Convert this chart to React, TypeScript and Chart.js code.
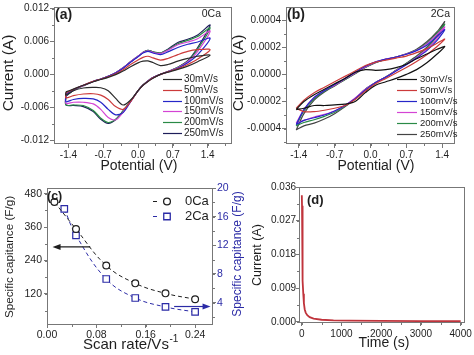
import React, { useEffect, useRef } from "react";
import { Chart, registerables } from "chart.js";

Chart.register(...registerables);

const FONT = '"Liberation Sans", Arial, Helvetica, sans-serif';
const FRAME = "#777777";
const INK = "#1e1e1e";
const BLUE = "#2b2ba6";

Chart.defaults.font.family = FONT;
Chart.defaults.color = INK;

// ---------------- panel (a): 0Ca cyclic voltammetry (current in mA) ----------------
const scanLabels = ["30mV/s", "50mV/s", "100mV/s", "150mV/s", "200mV/s", "250mV/s"];
const colorsA = ["#2a2a2a", "#cc3a3a", "#2626c8", "#d444d4", "#2a8a46", "#1e1e5a"];
const colorsB = ["#111111", "#cc3a3a", "#2626c8", "#d444d4", "#2a8a46", "#444444"];

const potA = [-1.45, -1.3, -1.1, -0.9, -0.75, -0.6, -0.45, -0.3, -0.15, 0.0, 0.1, 0.2, 0.3, 0.45, 0.6, 0.8, 1.0, 1.2, 1.45];
const fwdA30 = [-3.2, -2.7, -2.0, -1.35, -0.95, -0.55, -0.05, 0.6, 1.4, 2.1, 2.4, 2.45, 2.15, 1.6, 1.8, 2.4, 2.9, 3.3, 3.5];
const fwdA50 = [-3.4, -2.75, -2.0, -1.3, -0.9, -0.45, 0.1, 0.85, 1.8, 2.6, 3.1, 3.3, 3.0, 2.6, 2.9, 3.6, 4.2, 4.5, 4.5];
const fwdA100 = [-3.6, -2.8, -2.0, -1.3, -0.85, -0.35, 0.25, 1.1, 2.2, 3.2, 3.9, 4.2, 3.9, 3.6, 4.1, 4.9, 5.5, 5.9, 6.6];
const fwdA150 = [-3.7, -2.85, -2.05, -1.3, -0.85, -0.35, 0.3, 1.2, 2.3, 3.3, 4.0, 4.3, 4.0, 3.8, 4.4, 5.4, 5.9, 6.5, 7.9];
const fwdA200 = [-3.9, -2.9, -2.05, -1.3, -0.85, -0.35, 0.3, 1.2, 2.3, 3.3, 4.0, 4.4, 4.1, 3.9, 4.5, 5.6, 6.2, 6.9, 8.5];
const fwdA250 = [-4.0, -2.95, -2.1, -1.3, -0.85, -0.35, 0.3, 1.2, 2.3, 3.3, 4.0, 4.4, 4.1, 3.9, 4.6, 5.8, 6.4, 7.2, 9.0];
const revA30 = [-3.8, -3.0, -2.5, -2.4, -2.45, -3.0, -4.4, -5.6, -4.7, -3.0, -2.0, -1.3, -0.7, 0.0, 0.4, 0.9, 1.5, 2.3, 3.5];
const revA50 = [-4.3, -3.9, -3.6, -3.55, -3.8, -4.6, -5.9, -6.4, -5.0, -3.0, -2.0, -1.3, -0.65, 0.0, 0.45, 1.0, 1.8, 2.8, 4.5];
const revA100 = [-5.0, -4.6, -4.4, -4.5, -5.1, -6.4, -7.4, -7.0, -5.0, -3.0, -2.0, -1.25, -0.6, 0.0, 0.45, 1.1, 2.1, 3.6, 6.6];
const revA150 = [-5.3, -5.1, -5.1, -5.4, -6.4, -7.9, -8.3, -6.9, -5.0, -3.0, -2.0, -1.2, -0.6, 0.0, 0.5, 1.2, 2.3, 4.2, 7.9];
const revA200 = [-5.6, -5.6, -5.7, -6.6, -8.0, -8.8, -8.2, -6.7, -4.9, -3.0, -1.95, -1.2, -0.6, 0.0, 0.5, 1.3, 2.4, 4.6, 8.5];
const revA250 = [-5.6, -5.7, -5.9, -6.8, -8.2, -8.95, -8.3, -6.7, -4.9, -3.0, -1.95, -1.2, -0.6, 0.0, 0.5, 1.3, 2.5, 4.9, 9.0];
const fwdA = [fwdA30, fwdA50, fwdA100, fwdA150, fwdA200, fwdA250];
const revA = [revA30, revA50, revA100, revA150, revA200, revA250];
const xTicksCV = [-1.4, -0.7, 0.0, 0.7, 1.4];
const yTicksA = [-0.012, -0.006, 0, 0.006, 0.012];

// ---------------- panel (b): 2Ca cyclic voltammetry (current in 1e-4 A) ----------------
const potB = [-1.45, -1.3, -1.1, -0.9, -0.7, -0.5, -0.3, -0.1, 0.1, 0.3, 0.5, 0.7, 0.9, 1.1, 1.3, 1.45];
const fwdB30 = [-2.6, -2.0, -1.5, -1.1, -0.7, -0.3, 0.15, 0.35, 0.3, 0.35, 0.5, 0.75, 1.15, 1.5, 1.85, 2.05];
const fwdB50 = [-2.5, -1.9, -1.35, -0.95, -0.55, -0.15, 0.25, 0.65, 0.9, 1.05, 1.2, 1.35, 1.6, 1.9, 2.3, 2.6];
const fwdB100 = [-3.7, -2.6, -1.7, -1.2, -0.75, -0.3, 0.15, 0.6, 0.92, 1.12, 1.28, 1.48, 1.75, 2.15, 2.8, 3.3];
const fwdB150 = [-3.6, -2.6, -1.7, -1.2, -0.8, -0.35, 0.1, 0.55, 0.9, 1.12, 1.28, 1.5, 1.78, 2.25, 2.95, 3.5];
const fwdB200 = [-3.8, -2.7, -1.8, -1.25, -0.82, -0.38, 0.08, 0.52, 0.88, 1.1, 1.28, 1.5, 1.8, 2.3, 3.05, 3.7];
const fwdB250 = [-4.1, -2.9, -1.9, -1.3, -0.85, -0.4, 0.05, 0.5, 0.86, 1.1, 1.28, 1.52, 1.85, 2.4, 3.15, 3.9];
const revB30 = [-2.6, -2.5, -2.3, -2.3, -2.25, -2.2, -2.0, -1.35, -0.8, -0.55, -0.3, 0.0, 0.35, 0.85, 1.5, 2.05];
const revB50 = [-2.5, -2.75, -2.75, -2.65, -2.5, -2.3, -1.85, -1.25, -0.7, -0.3, 0.1, 0.5, 0.95, 1.45, 2.05, 2.6];
const revB100 = [-3.7, -3.4, -3.2, -3.0, -2.7, -2.3, -1.8, -1.15, -0.6, -0.2, 0.25, 0.7, 1.2, 1.75, 2.5, 3.3];
const revB150 = [-3.6, -3.4, -3.15, -2.95, -2.7, -2.3, -1.75, -1.1, -0.6, -0.2, 0.28, 0.75, 1.25, 1.85, 2.65, 3.5];
const revB200 = [-3.8, -3.55, -3.35, -3.1, -2.8, -2.35, -1.8, -1.1, -0.6, -0.2, 0.3, 0.8, 1.3, 1.95, 2.8, 3.7];
const revB250 = [-4.1, -3.8, -3.6, -3.3, -2.9, -2.4, -1.8, -1.1, -0.6, -0.2, 0.3, 0.82, 1.35, 2.0, 2.9, 3.9];
const fwdB = [fwdB30, fwdB50, fwdB100, fwdB150, fwdB200, fwdB250];
const revB = [revB30, revB50, revB100, revB150, revB200, revB250];
const yTicksB = [-0.0004, -0.0002, 0, 0.0002, 0.0004];

// ---------------- panel (c): specific capacitance vs scan rate ----------------
const rateC0 = [0.012, 0.047, 0.096, 0.143, 0.192, 0.24];
const capC0 = [450, 353, 222, 158, 122, 101];
const rateC2 = [0.028, 0.047, 0.096, 0.143, 0.192, 0.24];
const capC2 = [17.1, 13.4, 7.3, 4.65, 3.4, 2.7];
const xTicksC = [0, 0.08, 0.16, 0.24];
const yTicksC = [120, 240, 360, 480];
const y1TicksC = [4, 8, 12, 16, 20];

// ---------------- panel (d): chronoamperometry ----------------
const timeD = [3, 8, 15, 22, 30, 40, 55, 75, 100, 140, 200, 300, 500, 800, 1200, 2000, 3000, 4000];
const currD = [0.0338, 0.031, 0.024, 0.016, 0.011, 0.0075, 0.005, 0.0034, 0.0025, 0.0018, 0.0013, 0.0009, 0.0006, 0.00045, 0.00038, 0.0003, 0.00025, 0.0002];
const xTicksD = [0, 1000, 2000, 3000, 4000];
const yTicksD = [0, 0.009, 0.018, 0.027, 0.036];

// ---------------- helpers ----------------
function loop(pot: number[], fwd: number[], rev: number[], unit: number) {
  const pts: { x: number; y: number }[] = [];
  for (let i = 0; i < pot.length; i++) pts.push({ x: pot[i], y: fwd[i] * unit });
  for (let i = pot.length - 2; i >= 0; i--) pts.push({ x: pot[i], y: rev[i] * unit });
  pts.push({ x: pot[0], y: fwd[0] * unit });
  return pts;
}

function axis(o: any) {
  return {
    type: "linear",
    position: o.position,
    min: o.min,
    max: o.max,
    afterBuildTicks: (s: any) => {
      s.ticks = o.ticks.map((v: number) => ({ value: v }));
    },
    afterFit: (s: any) => {
      if (o.horizontal) s.height = o.size;
      else s.width = o.size;
    },
    grid: { display: true, drawOnChartArea: false, drawTicks: true, tickLength: o.tickLen, color: FRAME, lineWidth: 1 },
    border: { display: false },
    ticks: {
      callback: (v: any) => o.fmt(Number(v)),
      font: { size: o.font, family: FONT },
      color: o.color || INK,
      padding: o.pad,
      maxRotation: 0,
      minRotation: 0,
      autoSkip: false,
    },
  };
}

const decoPlugin = {
  id: "deco",
  afterDraw(chart: any, _a: any, o: any) {
    const ctx: CanvasRenderingContext2D = chart.ctx;
    const ca = chart.chartArea;
    ctx.save();
    // arrows (data coordinates)
    (o.arrows || []).forEach((a: any) => {
      const xs = chart.scales[a.xAxis];
      const ys = chart.scales[a.yAxis];
      const x0 = xs.getPixelForValue(a.x0);
      const x1 = xs.getPixelForValue(a.x1);
      const y = ys.getPixelForValue(a.y);
      const dir = Math.sign(x1 - x0);
      ctx.strokeStyle = a.color;
      ctx.fillStyle = a.color;
      ctx.lineWidth = 1.2;
      ctx.beginPath();
      ctx.moveTo(x0, y);
      ctx.lineTo(x1 - dir * 5, y);
      ctx.stroke();
      ctx.beginPath();
      ctx.moveTo(x1, y);
      ctx.lineTo(x1 - dir * 8, y - 3);
      ctx.lineTo(x1 - dir * 8, y + 3);
      ctx.closePath();
      ctx.fill();
    });
    // frame
    ctx.strokeStyle = FRAME;
    ctx.lineWidth = 1;
    const L = Math.round(ca.left) + 0.5;
    const T = Math.round(ca.top) + 0.5;
    const R = Math.round(ca.right) - 0.5;
    const B = Math.round(ca.bottom) - 0.5;
    ctx.strokeRect(L, T, R - L, B - T);
    // minor ticks
    (o.minor || []).forEach((m: any) => {
      const sc = chart.scales[m.axis];
      const k0 = Math.ceil(sc.min / m.step - 1e-9);
      for (let k = k0; k * m.step <= sc.max + 1e-12; k++) {
        const p = Math.round(sc.getPixelForValue(k * m.step)) + 0.5;
        ctx.beginPath();
        if (sc.isHorizontal()) {
          ctx.moveTo(p, ca.bottom);
          ctx.lineTo(p, ca.bottom + 2);
        } else if (sc.position === "left") {
          ctx.moveTo(ca.left, p);
          ctx.lineTo(ca.left - 2, p);
        } else {
          ctx.moveTo(ca.right, p);
          ctx.lineTo(ca.right + 2, p);
        }
        ctx.stroke();
      }
    });
    // legend
    const lg = o.legend;
    if (lg) {
      chart.data.datasets.forEach((ds: any, i: number) => {
        const y = Math.round(lg.y0 + i * lg.dy) + 0.5;
        ctx.strokeStyle = ds.borderColor;
        ctx.lineWidth = lg.lw || 1.2;
        ctx.setLineDash(ds.borderDash || []);
        ctx.beginPath();
        ctx.moveTo(lg.x0, y);
        ctx.lineTo(lg.x1, y);
        ctx.stroke();
        ctx.setLineDash([]);
        if (lg.mx != null) {
          ctx.fillStyle = "#ffffff";
          ctx.strokeStyle = ds.pointBorderColor || ds.borderColor;
          ctx.lineWidth = 1.3;
          ctx.beginPath();
          if (ds.pointStyle === "rect") {
            const h = ds.pointRadius * Math.SQRT1_2;
            ctx.rect(lg.mx - h, y - h, 2 * h, 2 * h);
          } else {
            ctx.arc(lg.mx, y, ds.pointRadius, 0, Math.PI * 2);
          }
          ctx.fill();
          ctx.stroke();
        }
        ctx.fillStyle = lg.color || INK;
        ctx.font = `${lg.size}px ${FONT}`;
        ctx.textAlign = "left";
        ctx.textBaseline = "middle";
        ctx.fillText(ds.label, lg.tx, y);
      });
    }
    // texts (labels and axis titles)
    (o.texts || []).forEach((t: any) => {
      ctx.save();
      ctx.fillStyle = t.color || INK;
      ctx.font = `${t.bold ? "bold " : ""}${t.size}px ${FONT}`;
      ctx.textAlign = t.align || "center";
      ctx.textBaseline = "middle";
      ctx.translate(t.x, t.y);
      if (t.rot) ctx.rotate(-Math.PI / 2);
      ctx.fillText(t.t, 0, 0);
      if (t.sup) {
        const w = ctx.measureText(t.t).width;
        ctx.font = `${Math.round(t.size * 0.65)}px ${FONT}`;
        ctx.textAlign = "left";
        ctx.fillText(t.sup, w + 0.5, -6);
      }
      ctx.restore();
    });
    ctx.restore();
  },
};

function cvConfig(p: any) {
  return {
    type: "scatter",
    data: {
      datasets: scanLabels.map((l, i) => ({
        label: l,
        data: loop(p.pot, p.fwd[i], p.rev[i], p.unit),
        showLine: true,
        borderColor: p.colors[i],
        backgroundColor: p.colors[i],
        borderWidth: 1.2,
        pointRadius: 0,
        tension: 0.3,
        fill: false,
      })),
    },
    options: {
      animation: false,
      responsive: false,
      events: [],
      layout: { padding: { top: 5, right: p.padRight, left: 0, bottom: 0 } },
      plugins: {
        legend: { display: false },
        tooltip: { enabled: false },
        deco: {
          minor: [
            { axis: "x", step: 0.35 },
            { axis: "y", step: p.yStep },
          ],
          legend: p.legend,
          texts: p.texts,
        },
      },
      scales: {
        x: axis({ horizontal: true, min: p.xmin, max: p.xmax, ticks: xTicksCV, fmt: (v: number) => v.toFixed(1), size: 31, tickLen: 4, pad: 1, font: 10 }),
        y: axis({ position: "left", min: p.ymin, max: p.ymax, ticks: p.yticks, fmt: p.fmtY, size: p.yWidth, tickLen: 4, pad: 1, font: 10 }),
      },
    },
    plugins: [decoPlugin],
  };
}

const makeA = () =>
  cvConfig({
    pot: potA, fwd: fwdA, rev: revA, unit: 1e-3, colors: colorsA,
    xmin: -1.69, xmax: 1.89, ymin: -0.01273, ymax: 0.0123, yticks: yTicksA,
    fmtY: (v: number) => v.toFixed(3), yWidth: 54, padRight: 5, yStep: 0.003,
    legend: { x0: 163, x1: 182, tx: 184, y0: 79, dy: 10.8, size: 10 },
    texts: [
      { t: "(a)", x: 55, y: 15, size: 14, bold: true, align: "left" },
      { t: "0Ca", x: 221, y: 14, size: 10.5, align: "right" },
      { t: "Current (A)", x: 9, y: 73, size: 15.5, rot: true },
      { t: "Potential (V)", x: 139, y: 166, size: 14 },
    ],
  });

const makeB = () =>
  cvConfig({
    pot: potB, fwd: fwdB, rev: revB, unit: 1e-4, colors: colorsB,
    xmin: -1.65, xmax: 1.65, ymin: -0.000514, ymax: 0.000497, yticks: yTicksB,
    fmtY: (v: number) => v.toFixed(4), yWidth: 58, padRight: 19, yStep: 0.0001,
    legend: { x0: 169, x1: 189, tx: 192, y0: 79, dy: 11, size: 9.5 },
    texts: [
      { t: "(b)", x: 59, y: 15, size: 14, bold: true, align: "left" },
      { t: "2Ca", x: 222, y: 14, size: 10.5, align: "right" },
      { t: "Current (A)", x: 11, y: 73, size: 15.5, rot: true },
      { t: "Potential (V)", x: 148, y: 166, size: 14 },
    ],
  });

const makeC = () => ({
  type: "scatter",
  data: {
    datasets: [
      {
        label: "0Ca",
        data: rateC0.map((x, i) => ({ x, y: capC0[i] })),
        yAxisID: "y",
        showLine: true,
        borderColor: INK,
        borderDash: [4, 3],
        borderWidth: 1,
        tension: 0.4,
        pointStyle: "circle",
        pointRadius: 3.4,
        pointBorderColor: INK,
        pointBackgroundColor: "#ffffff",
        pointBorderWidth: 1.2,
      },
      {
        label: "2Ca",
        data: rateC2.map((x, i) => ({ x, y: capC2[i] })),
        yAxisID: "y1",
        showLine: true,
        borderColor: BLUE,
        borderDash: [4, 3],
        borderWidth: 1,
        tension: 0.4,
        pointStyle: "rect",
        pointRadius: 4.6,
        pointBorderColor: BLUE,
        pointBackgroundColor: "#ffffff",
        pointBorderWidth: 1.2,
      },
    ],
  },
  options: {
    animation: false,
    responsive: false,
    events: [],
    layout: { padding: { top: 13, right: 0, left: 0, bottom: 0 } },
    plugins: {
      legend: { display: false },
      tooltip: { enabled: false },
      deco: {
        arrows: [
          { xAxis: "x", yAxis: "y", x0: 0.07, x1: 0.009, y: 289, color: INK },
          { xAxis: "x", yAxis: "y1", x0: 0.206, x1: 0.265, y: 3.46, color: BLUE },
        ],
        minor: [
          { axis: "x", step: 0.04 },
          { axis: "y", step: 60 },
          { axis: "y1", step: 2 },
        ],
        legend: { x0: 153, x1: 158, mx: 167, tx: 185, y0: 26, dy: 15, size: 13, lw: 1 },
        texts: [
          { t: "(c)", x: 47, y: 22, size: 12.5, bold: true, align: "left" },
          { t: "Specific capitance (F/g)", x: 10, y: 82, size: 11.7, rot: true },
          { t: "Specific capitance (F/g)", x: 238, y: 79, size: 12, rot: true, color: BLUE },
          { t: "Scan rate/Vs", x: 83, y: 170, size: 15, align: "left", sup: "-1" },
        ],
      },
    },
    scales: {
      x: axis({ horizontal: true, min: 0, max: 0.269, ticks: xTicksC, fmt: (v: number) => v.toFixed(2), size: 30, tickLen: 3, pad: 1, font: 10.5 }),
      y: axis({ position: "left", min: 8.4, max: 500.5, ticks: yTicksC, fmt: (v: number) => String(v), size: 47, tickLen: 3, pad: 2, font: 10.5 }),
      y1: axis({ position: "right", min: 0.88, max: 20, ticks: y1TicksC, fmt: (v: number) => String(v), size: 37, tickLen: 3, pad: 1, font: 10.5, color: BLUE }),
    },
  },
  plugins: [decoPlugin],
});

const makeD = () => ({
  type: "scatter",
  data: {
    datasets: [
      {
        label: "current",
        data: timeD.map((x, i) => ({ x, y: currD[i] })),
        showLine: true,
        borderColor: "#c0343c",
        borderWidth: 1.8,
        pointRadius: 0,
        tension: 0,
      },
    ],
  },
  options: {
    animation: false,
    responsive: false,
    events: [],
    layout: { padding: { top: 12, right: 8, left: 0, bottom: 0 } },
    plugins: {
      legend: { display: false },
      tooltip: { enabled: false },
      deco: {
        minor: [
          { axis: "x", step: 500 },
          { axis: "y", step: 0.0045 },
        ],
        texts: [
          { t: "(d)", x: 67, y: 25, size: 13, bold: true, align: "left" },
          { t: "Current (A)", x: 18, y: 80, size: 12.5, rot: true },
          { t: "Time (s)", x: 144, y: 168, size: 14 },
        ],
      },
    },
    scales: {
      x: axis({ horizontal: true, min: -68, max: 4108, ticks: xTicksD, fmt: (v: number) => String(Math.round(v)), size: 32, tickLen: 3, pad: 2, font: 10 }),
      y: axis({ position: "left", min: -0.00027, max: 0.036, ticks: yTicksD, fmt: (v: number) => v.toFixed(3), size: 59, tickLen: 3, pad: 0, font: 10 }),
    },
  },
  plugins: [decoPlugin],
});

function Panel(props: { left: number; top: number; width: number; height: number; make: () => any }) {
  const ref = useRef<HTMLCanvasElement>(null);
  useEffect(() => {
    const chart = new Chart(ref.current as HTMLCanvasElement, props.make());
    return () => chart.destroy();
  }, []);
  return (
    <canvas
      ref={ref}
      width={props.width}
      height={props.height}
      style={{ position: "absolute", left: props.left, top: props.top, width: props.width, height: props.height }}
    />
  );
}

export default function App() {
  return (
    <div style={{ position: "absolute", left: 0, top: 0, width: 474, height: 355, background: "#ffffff", overflow: "hidden" }}>
      <Panel left={0} top={0} width={237} height={175} make={makeA} />
      <Panel left={228} top={0} width={246} height={175} make={makeB} />
      <Panel left={0} top={175} width={250} height={180} make={makeC} />
      <Panel left={240} top={175} width={234} height={180} make={makeD} />
    </div>
  );
}
